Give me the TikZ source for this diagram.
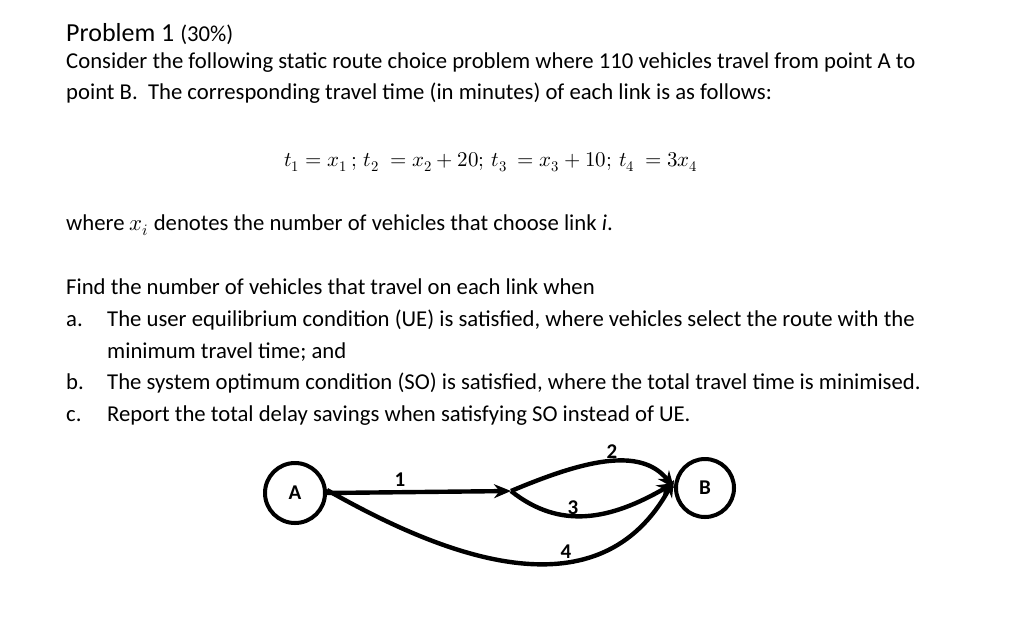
\documentclass[tikz,border=0pt]{standalone}
\usepackage{fontspec}
\setmainfont{Carlito}
\usepackage{unicode-math}
\setmathfont{Latin Modern Math}
\usetikzlibrary{arrows.meta}
\begin{document}
\begin{tikzpicture}[x=1pt,y=-1pt,
  txt/.style={anchor=base west,inner sep=0pt,font=\fontsize{22.7}{26}\selectfont},
  nd/.style={circle,draw,line width=4pt,minimum size=60pt,inner sep=0pt,font=\fontsize{21}{24}\selectfont\bfseries},
  lk/.style={line width=4.4pt,-{Stealth[length=17pt,width=14pt]}},
  lb/.style={font=\fontsize{21}{24}\selectfont\bfseries,inner sep=0pt}]
\useasboundingbox (0,0) rectangle (1024,625);
\node[txt,font=\fontsize{26}{30}\selectfont] (t0) at (66,41) {Problem 1 {\fontsize{22.7}{26}\selectfont(30\%)}};
\node[txt] (t1) at (66,68) {Consider the following static route choice problem where 110 vehicles travel from point A to};
\node[txt] (t2) at (66,99) {point B.\ \ The corresponding travel time (in minutes) of each link is as follows:};
\node[anchor=base,inner sep=0pt,font=\fontsize{21}{24}\selectfont] (eq) at (491,166) {$t_1 = x_1\,;\,t_2\ = x_2+20;\,t_3\ = x_3+10;\,t_4\ = 3x_4$};
\node[txt] (t3) at (66,230) {where $x_i$ denotes the number of vehicles that choose link \textit{i}.};
\node[txt] (t4) at (66,294) {Find the number of vehicles that travel on each link when};
\node[txt] (a1) at (66,326) {a.};
\node[txt] (a2) at (107,326) {The user equilibrium condition (UE) is satisfied, where vehicles select the route with the};
\node[txt] (a3) at (107,358) {minimum travel time; and};
\node[txt] (b1) at (66,389) {b.};
\node[txt] (b2) at (107,389) {The system optimum condition (SO) is satisfied, where the total travel time is minimised.};
\node[txt] (c1) at (66,421) {c.};
\node[txt] (c2) at (107,421) {Report the total delay savings when satisfying SO instead of UE.};
\node[nd] (A) at (295,493) {A};
\node[nd,minimum size=58pt] (B) at (705,488) {B};
\coordinate (M) at (511,491);
\draw[lk] (A.east) -- (M);
\draw[lk] (M) .. controls (580,462) and (640,445) .. (B.west);
\draw[lk] (M) .. controls (560,530) and (610,520) .. ([yshift=5pt]B.west);
\draw[lk] ([yshift=3pt]A.east) .. controls (450,560) and (600,615) .. ([yshift=8pt]B.west);
\node[lb] (l1) at (400,480) {1};
\node[lb] (l2) at (612,452) {2};
\node[lb] (l3) at (573,508) {3};
\node[lb] (l4) at (566,552) {4};
\end{tikzpicture}
\end{document}
